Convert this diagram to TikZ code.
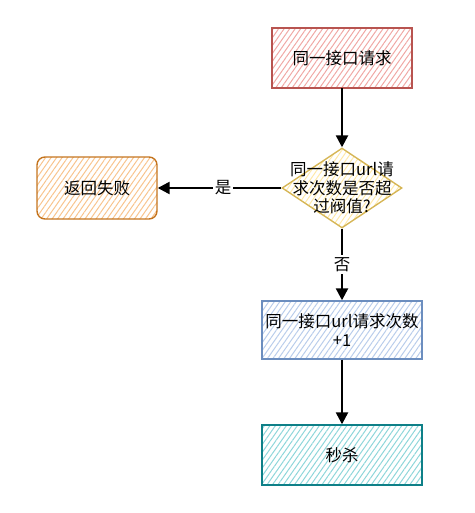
\documentclass[tikz,border=0pt]{standalone}
\usepackage{fontspec}
\setmainfont{Noto Sans CJK SC}
\usetikzlibrary{arrows.meta,patterns.meta,shapes.geometric}

\definecolor{redline}{HTML}{B85450}
\definecolor{redfill}{HTML}{F0A8A5}
\definecolor{orangeline}{HTML}{C4741E}
\definecolor{orangefill}{HTML}{F8C48E}
\definecolor{yellowline}{HTML}{D6B656}
\definecolor{yellowfill}{HTML}{FFE9A8}
\definecolor{blueline}{HTML}{6C8EBF}
\definecolor{bluefill}{HTML}{B9CDEB}
\definecolor{tealline}{HTML}{0E8088}
\definecolor{tealfill}{HTML}{8ED6DA}

\begin{document}
\begin{tikzpicture}[x=1pt,y=-1pt,
	txt/.style={font=\fontsize{16.5}{18.5}\selectfont},
	box/.style={draw, line width=1.4pt, minimum width=140pt, minimum height=60pt, align=center, txt},
	hatch/.style={pattern={Lines[angle=55,distance=4.5pt,line width=1pt]}, pattern color=#1},
	flow/.style={line width=2.4pt, -{Triangle[length=12pt,width=12pt]}},
	tag/.style={fill=white, inner sep=2pt, txt}]
	\useasboundingbox (0,0) rectangle (474,513);

	\node[box, draw=redline, hatch=redfill] (req) at (342,58) {同一接口请求};
	\node[draw=yellowline, hatch=yellowfill, line width=1.4pt, shape=diamond,
		minimum width=120pt, minimum height=80pt, inner sep=0pt,
		label={[align=center, txt]center:同一接口url请\\求次数是否超\\过阀值?}] (check) at (342,188) {};
	\node[box, draw=orangeline, hatch=orangefill, rounded corners=8pt,
		minimum width=120pt, minimum height=62pt] (fail) at (97,188) {返回失败};
	\node[box, draw=blueline, hatch=bluefill, minimum width=160pt, minimum height=58pt] (count) at (342,330) {同一接口url请求次数\\+1};
	\node[box, draw=tealline, hatch=tealfill, minimum width=160pt] (kill) at (342,455) {秒杀};

	\draw[flow] (req) -- (check);
	\draw[flow] (check.west) to node[tag, pos=0.47] {是} (fail);
	\draw[flow] (check.south) to node[tag] {否} (count);
	\draw[flow] (count) -- (kill);
\end{tikzpicture}
\end{document}
